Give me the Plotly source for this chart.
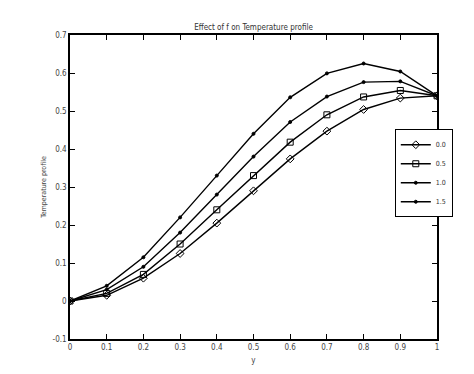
import plotly.graph_objects as go

x_vals = [0, 0.1, 0.2, 0.3, 0.4, 0.5, 0.6, 0.7, 0.8, 0.9, 1.0]
s_00 = [0, 0.015, 0.06, 0.125, 0.205, 0.29, 0.374, 0.447, 0.504, 0.534, 0.54]
s_05 = [0, 0.02, 0.07, 0.15, 0.24, 0.33, 0.418, 0.49, 0.537, 0.554, 0.54]
s_10 = [0, 0.03, 0.09, 0.18, 0.28, 0.38, 0.471, 0.538, 0.576, 0.578, 0.54]
s_15 = [0, 0.04, 0.115, 0.22, 0.33, 0.44, 0.536, 0.599, 0.625, 0.604, 0.54]
names = ["0.0", "0.5", "1.0", "1.5"]
x_ticks = [0, 0.1, 0.2, 0.3, 0.4, 0.5, 0.6, 0.7, 0.8, 0.9, 1]
x_tick_text = ["0", "0.1", "0.2", "0.3", "0.4", "0.5", "0.6", "0.7", "0.8", "0.9", "1"]
y_ticks = [-0.1, 0, 0.1, 0.2, 0.3, 0.4, 0.5, 0.6, 0.7]
y_tick_text = ["-0.1", "0", "0.1", "0.2", "0.3", "0.4", "0.5", "0.6", "0.7"]

FONT = "Liberation Sans Narrow, DejaVu Sans Condensed, Arial Narrow, sans-serif"

fig = go.Figure()
styles = [
    dict(symbol="diamond-open", size=6),
    dict(symbol="square-open", size=6),
    dict(symbol="circle", size=3),
    dict(symbol="circle", size=3),
]
for name, ys, st in zip(names, [s_00, s_05, s_10, s_15], styles):
    fig.add_trace(go.Scatter(
        x=x_vals, y=ys, name=name, mode="lines+markers",
        line=dict(color="black", width=1.4),
        marker=dict(color="black", line=dict(color="black", width=1), **st),
    ))

axis_common = dict(
    showgrid=False, zeroline=False, showline=True, linecolor="black", linewidth=1.5,
    mirror="ticks", ticks="inside", ticklen=5, tickcolor="black", tickwidth=1,
    tickfont=dict(family=FONT, size=8, color="#444"),
)
fig.update_xaxes(range=[0, 1], tickvals=x_ticks, ticktext=x_tick_text,
                 title=dict(text="y", font=dict(family=FONT, size=8, color="#444"), standoff=6),
                 **axis_common)
fig.update_yaxes(range=[-0.1, 0.7], tickvals=y_ticks, ticktext=y_tick_text,
                 title=dict(text="Temperature profile", font=dict(family=FONT, size=7, color="#444"), standoff=5),
                 **axis_common)

fig.update_layout(
    width=474, height=374,
    margin=dict(l=62, r=45, t=27, b=43),
    paper_bgcolor="white", plot_bgcolor="white",
    title=dict(text="Effect of f on Temperature profile", x=0.5, xref="paper",
               y=1 - 19 / 374, yanchor="middle",
               font=dict(family=FONT, size=8, color="#333")),
    legend=dict(x=0.885, y=0.69, xanchor="left", yanchor="top",
                bordercolor="black", borderwidth=1, bgcolor="white",
                font=dict(family=FONT, size=7, color="#333"),
                itemwidth=30, tracegroupgap=0),
    showlegend=True,
)

fig.write_html("out.html")
